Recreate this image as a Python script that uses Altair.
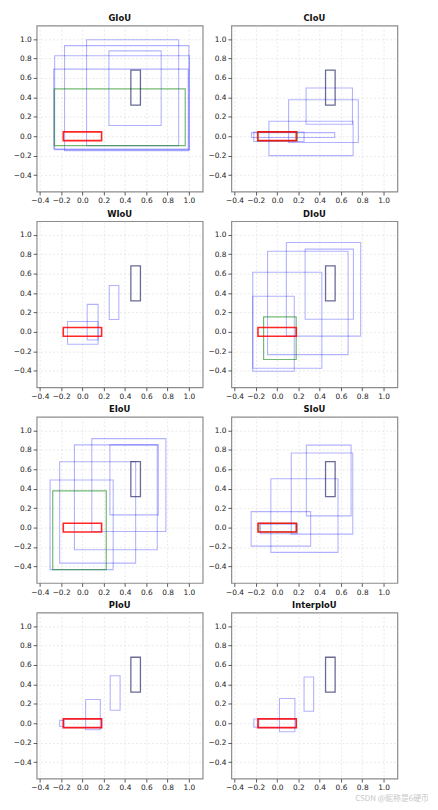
import pandas as pd
import altair as alt

METHODS = ["GIoU", "CIoU", "WIoU", "DIoU", "EIoU", "SIoU", "PIoU", "InterpIoU"]

# boxes are [x1, y1, x2, y2]
target_box = [0.455, 0.32, 0.545, 0.68]
final_box = [-0.18, -0.045, 0.18, 0.045]

giou_steps = [
    [0.039, -0.097, 0.904, 0.993],
    [-0.168, -0.148, 1.0, 0.933],
    [-0.261, -0.138, 1.006, 0.829],
    [-0.27, -0.131, 0.994, 0.691],
    [0.249, 0.111, 0.74, 0.879],
]
ciou_steps = [
    [-0.241, -0.013, 0.541, 0.037],
    [-0.219, -0.054, 0.253, 0.044],
    [-0.077, -0.2, 0.714, 0.154],
    [0.108, -0.064, 0.763, 0.376],
    [0.272, 0.124, 0.708, 0.497],
]
wiou_steps = [
    [-0.14, -0.127, 0.147, 0.107],
    [0.045, -0.084, 0.147, 0.284],
    [0.252, 0.127, 0.342, 0.478],
]
diou_steps = [
    [0.087, -0.043, 0.785, 0.92],
    [0.263, 0.13, 0.717, 0.853],
    [-0.09, -0.234, 0.667, 0.83],
    [-0.229, -0.375, 0.42, 0.615],
    [-0.229, -0.405, 0.161, 0.368],
]
eiou_steps = [
    [0.088, -0.04, 0.784, 0.916],
    [0.258, 0.131, 0.713, 0.852],
    [-0.075, -0.228, 0.703, 0.852],
    [-0.214, -0.366, 0.5, 0.678],
    [-0.304, -0.433, 0.289, 0.49],
]
siou_steps = [
    [0.275, 0.121, 0.695, 0.849],
    [0.133, -0.067, 0.711, 0.768],
    [-0.059, -0.255, 0.572, 0.503],
    [-0.244, -0.191, 0.315, 0.164],
    [-0.158, -0.064, 0.189, 0.034],
]
piou_steps = [
    [-0.214, -0.034, -0.171, 0.03],
    [0.03, -0.067, 0.168, 0.245],
    [0.261, 0.134, 0.354, 0.49],
    [-0.18, -0.045, 0.18, 0.045],
]
interpiou_steps = [
    [-0.219, -0.04, -0.173, 0.044],
    [0.022, -0.087, 0.167, 0.255],
    [0.253, 0.124, 0.343, 0.477],
    [-0.18, -0.045, 0.18, 0.045],
]

# green boxes (only some methods have one)
green_boxes = {
    "GIoU": [-0.264, -0.097, 0.966, 0.487],
    "CIoU": [-0.185, -0.045, 0.19, 0.045],
    "DIoU": [-0.127, -0.284, 0.179, 0.154],
    "EIoU": [-0.279, -0.433, 0.224, 0.379],
    "SIoU": [-0.17, -0.045, 0.185, 0.045],
}

steps = [giou_steps, ciou_steps, wiou_steps, diou_steps,
         eiou_steps, siou_steps, piou_steps, interpiou_steps]

rows = []
for method, boxes in zip(METHODS, steps):
    for b in boxes:
        rows.append([method, "step"] + b)
    if method in green_boxes:
        rows.append([method, "green"] + green_boxes[method])
    rows.append([method, "target"] + target_box)
    rows.append([method, "final"] + final_box)
df = pd.DataFrame(rows, columns=["method", "kind", "x1", "y1", "x2", "y2"])

watermark = pd.DataFrame({"text": ["CSDN @昵称是6硬币"]})

TICKS = [-0.4, -0.2, 0.0, 0.2, 0.4, 0.6, 0.8, 1.0]
x_scale = alt.Scale(domain=[-0.43, 1.13], nice=False, zero=False)
y_scale = alt.Scale(domain=[-0.57, 1.14], nice=False, zero=False)

W, H = 168, 168

styles = [
    ("step", "#0000ff", 0.3, 1.1),
    ("green", "#008000", 0.55, 1.2),
    ("target", "#1a1a5e", 0.65, 1.3),
    ("final", "#ff0000", 0.85, 1.6),
]


def panel(method):
    base = alt.Chart(df).transform_filter(alt.datum.method == method).encode(
        x=alt.X("x1:Q", scale=x_scale, title=None,
                axis=alt.Axis(values=TICKS, format=".1f")),
        x2="x2:Q",
        y=alt.Y("y1:Q", scale=y_scale, title=None,
                axis=alt.Axis(values=TICKS, format=".1f")),
        y2="y2:Q",
    )
    layers = [
        base.transform_filter(alt.datum.kind == kind).mark_rect(
            fillOpacity=0, stroke=color, strokeOpacity=op, strokeWidth=sw
        )
        for kind, color, op, sw in styles
    ]
    if method == METHODS[-1]:
        # CSDN watermark under the last panel
        layers.append(
            alt.Chart(watermark).mark_text(
                align="right", baseline="middle", font="Noto Sans CJK SC",
                fontSize=8, color="#c8c8c8"
            ).encode(x=alt.value(W + 32), y=alt.value(H + 21), text="text:N")
        )
    return alt.layer(*layers).properties(
        width=W, height=H,
        title=alt.TitleParams(method, fontSize=8.5, fontWeight="bold",
                              font="DejaVu Sans", offset=3, color="#111"),
    )


chart = alt.concat(
    *[panel(m) for m in METHODS], columns=2,
    spacing={"row": 3, "column": 3},
).properties(
    padding={"left": 4, "top": 0, "right": 0, "bottom": 0},
).configure_axis(
    labelFont="DejaVu Sans", labelFontSize=7.5, labelColor="#222",
    tickSize=3.5, tickColor="#333", tickWidth=0.8, labelPadding=2,
    domain=False, gridColor="#d9d9d9", gridDash=[2, 2], gridWidth=0.6,
).configure_view(
    stroke="#8c8c8c", strokeWidth=1.2,
)

chart.save("out.html", embed_options={"renderer": "svg", "actions": False})
